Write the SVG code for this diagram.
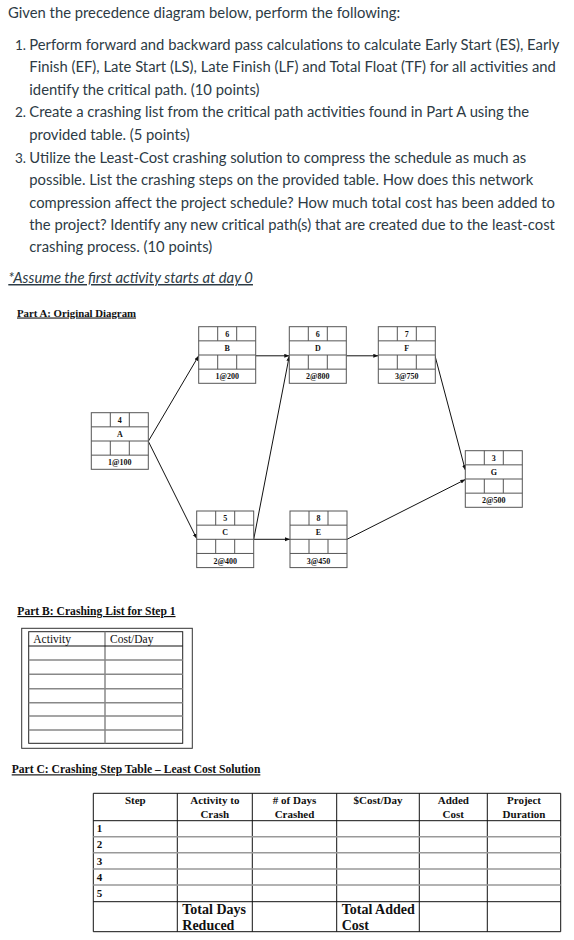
<svg xmlns="http://www.w3.org/2000/svg" width="574" height="940" viewBox="0 0 574 940">
<defs>
<style>
.q{font-family:Lato,"Open Sans","Liberation Sans",sans-serif;font-size:14.8px;fill:#2D3B45}
.qn{font-size:13.5px}
.qi{font-style:italic;text-decoration:underline}
.h{font-family:"Liberation Serif","Times New Roman",serif;font-weight:bold;fill:#111;text-decoration:underline}
.box{fill:#fff;stroke:#555;stroke-width:1}
.grid{fill:none;stroke:#555;stroke-width:1}
.nt{font-family:"Liberation Serif","Times New Roman",serif;font-weight:bold;font-size:8px;fill:#111;text-anchor:middle}
.edge{fill:none;stroke:#111;stroke-width:1}
.tb{font-family:"Liberation Serif","Times New Roman",serif;font-size:11.5px;fill:#111}
.tbb{font-family:"Liberation Serif","Times New Roman",serif;font-size:11px;font-weight:bold;fill:#111}
.tbc{text-anchor:middle}
.big{font-family:"Liberation Serif","Times New Roman",serif;font-size:14px;font-weight:bold;fill:#111}
.ln{stroke:#111;stroke-width:1;fill:none}
.lg{stroke:#999;stroke-width:1.5;fill:none}
.lb{stroke:#888;stroke-width:1.5;fill:none}
</style>
<marker id="arr" markerUnits="userSpaceOnUse" markerWidth="6" markerHeight="5" refX="5" refY="2" orient="auto">
<path d="M0,0 L5,2 L0,4 z" fill="#111"/>
</marker>
</defs>
<rect width="574" height="940" fill="#fff"/>

<g id="question">
<text class="q" x="8" y="17.5">Given the precedence diagram below, perform the following:</text>
<text class="q qn" x="15" y="49.5">1.</text>
<text class="q" x="29.3" y="49.5">Perform forward and backward pass calculations to calculate Early Start (ES), Early</text>
<text class="q" x="29.3" y="72">Finish (EF), Late Start (LS), Late Finish (LF) and Total Float (TF) for all activities and</text>
<text class="q" x="29.3" y="94.5">identify the critical path. (10 points)</text>
<text class="q qn" x="15" y="117">2.</text>
<text class="q" x="29.3" y="117">Create a crashing list from the critical path activities found in Part A using the</text>
<text class="q" x="29.3" y="139.5">provided table. (5 points)</text>
<text class="q qn" x="15" y="162.5">3.</text>
<text class="q" x="29.3" y="162.5">Utilize the Least-Cost crashing solution to compress the schedule as much as</text>
<text class="q" x="29.3" y="185">possible. List the crashing steps on the provided table. How does this network</text>
<text class="q" x="29.3" y="207.5">compression affect the project schedule? How much total cost has been added to</text>
<text class="q" x="29.3" y="230">the project? Identify any new critical path(s) that are created due to the least-cost</text>
<text class="q" x="29.3" y="252">crashing process. (10 points)</text>
<text class="q qi" x="8.3" y="283">*Assume the first activity starts at day 0</text>
</g>

<text class="h" x="17" y="316.5" font-size="10.8">Part A: Original Diagram</text>

<g id="connectors">
<line class="edge" x1="148.3" y1="441.3" x2="198.7" y2="355.8" marker-end="url(#arr)"/>
<line class="edge" x1="148.3" y1="441.3" x2="196.7" y2="538.5" marker-end="url(#arr)"/>
<line class="edge" x1="255.7" y1="355.8" x2="289.3" y2="355.8" marker-end="url(#arr)"/>
<line class="edge" x1="253.7" y1="539.3" x2="289.3" y2="356" marker-end="url(#arr)"/>
<line class="edge" x1="253.7" y1="539.3" x2="290" y2="539.3" marker-end="url(#arr)"/>
<line class="edge" x1="346.3" y1="355.8" x2="378.3" y2="355.8" marker-end="url(#arr)"/>
<line class="edge" x1="435" y1="355.8" x2="465.3" y2="470" marker-end="url(#arr)"/>
<line class="edge" x1="347" y1="539.3" x2="465.3" y2="479.5" marker-end="url(#arr)"/>
</g>

<g id="node-A" transform="translate(91.3,412.7)">
<rect class="box" width="57" height="56.6"/>
<path class="grid" d="M0,14.15H57M0,28.3H57M0,42.45H57M19,0V14.15M38,0V14.15M19,28.3V42.45M38,28.3V42.45"/>
<text class="nt" x="28.5" y="10.3">4</text>
<text class="nt" x="28.5" y="24.4">A</text>
<text class="nt" x="28.5" y="52.6">1@100</text>
</g>
<g id="node-B" transform="translate(198.7,326.7)">
<rect class="box" width="57" height="56.6"/>
<path class="grid" d="M0,14.15H57M0,28.3H57M0,42.45H57M19,0V14.15M38,0V14.15M19,28.3V42.45M38,28.3V42.45"/>
<text class="nt" x="28.5" y="10.3">6</text>
<text class="nt" x="28.5" y="24.4">B</text>
<text class="nt" x="28.5" y="52.6">1@200</text>
</g>
<g id="node-D" transform="translate(289.3,326.7)">
<rect class="box" width="57" height="56.6"/>
<path class="grid" d="M0,14.15H57M0,28.3H57M0,42.45H57M19,0V14.15M38,0V14.15M19,28.3V42.45M38,28.3V42.45"/>
<text class="nt" x="28.5" y="10.3">6</text>
<text class="nt" x="28.5" y="24.4">D</text>
<text class="nt" x="28.5" y="52.6">2@800</text>
</g>
<g id="node-F" transform="translate(378.3,326.7)">
<rect class="box" width="57" height="56.6"/>
<path class="grid" d="M0,14.15H57M0,28.3H57M0,42.45H57M19,0V14.15M38,0V14.15M19,28.3V42.45M38,28.3V42.45"/>
<text class="nt" x="28.5" y="10.3">7</text>
<text class="nt" x="28.5" y="24.4">F</text>
<text class="nt" x="28.5" y="52.6">3@750</text>
</g>
<g id="node-G" transform="translate(465.3,450.7)">
<rect class="box" width="57" height="56.6"/>
<path class="grid" d="M0,14.15H57M0,28.3H57M0,42.45H57M19,0V14.15M38,0V14.15M19,28.3V42.45M38,28.3V42.45"/>
<text class="nt" x="28.5" y="10.3">3</text>
<text class="nt" x="28.5" y="24.4">G</text>
<text class="nt" x="28.5" y="52.6">2@500</text>
</g>
<g id="node-C" transform="translate(196.7,511)">
<rect class="box" width="57" height="56.6"/>
<path class="grid" d="M0,14.15H57M0,28.3H57M0,42.45H57M19,0V14.15M38,0V14.15M19,28.3V42.45M38,28.3V42.45"/>
<text class="nt" x="28.5" y="10.3">5</text>
<text class="nt" x="28.5" y="24.4">C</text>
<text class="nt" x="28.5" y="52.6">2@400</text>
</g>
<g id="node-E" transform="translate(290,511)">
<rect class="box" width="57" height="56.6"/>
<path class="grid" d="M0,14.15H57M0,28.3H57M0,42.45H57M19,0V14.15M38,0V14.15M19,28.3V42.45M38,28.3V42.45"/>
<text class="nt" x="28.5" y="10.3">8</text>
<text class="nt" x="28.5" y="24.4">E</text>
<text class="nt" x="28.5" y="52.6">3@450</text>
</g>

<g id="part-b">
<text class="h" x="17.3" y="615" font-size="11.6">Part B: Crashing List for Step 1</text>
<rect x="21.7" y="628.3" width="170.6" height="120" fill="none" stroke="#333" stroke-width="1"/>
<rect x="28.7" y="631.7" width="154" height="111.6" fill="none" stroke="#222" stroke-width="1"/>
<path class="lb" d="M105,631.7V743.3"/>
<path class="ln" d="M28.7,646H182.7"/>
<path class="lb" d="M28.7,660H182.7M28.7,674.3H182.7M28.7,688.7H182.7M28.7,702.7H182.7M28.7,716H182.7M28.7,730H182.7"/>
<text class="tb" x="33.3" y="643">Activity</text>
<text class="tb" x="110" y="643">Cost/Day</text>
</g>

<g id="part-c">
<text class="h" x="11.7" y="773.3" font-size="11.6">Part C: Crashing Step Table – Least Cost Solution</text>
<path class="ln" d="M93.3,793.3H560.7V931.7H93.3Z"/>
<path class="ln" d="M177.3,793.3V931.7M252.3,793.3V931.7M336.7,793.3V931.7M419.3,793.3V931.7M487.3,793.3V931.7"/>
<path class="ln" d="M93.3,820.7H560.7M93.3,901.7H560.7"/>
<path class="lg" d="M93.3,836.7H560.7M93.3,852.7H560.7M93.3,869H560.7M93.3,885H560.7"/>
<text class="tbb tbc" x="135.3" y="804">Step</text>
<text class="tbb tbc" x="214.8" y="804">Activity to</text>
<text class="tbb tbc" x="214.8" y="817.7">Crash</text>
<text class="tbb tbc" x="294.5" y="804">&#35; of Days</text>
<text class="tbb tbc" x="294.5" y="817.7">Crashed</text>
<text class="tbb tbc" x="378" y="804">$Cost/Day</text>
<text class="tbb tbc" x="453.3" y="804">Added</text>
<text class="tbb tbc" x="453.3" y="817.7">Cost</text>
<text class="tbb tbc" x="524" y="804">Project</text>
<text class="tbb tbc" x="524" y="817.7">Duration</text>
<text class="tbb" x="96.7" y="832.3" font-size="12.5">1</text>
<text class="tbb" x="96.7" y="848.3" font-size="12.5">2</text>
<text class="tbb" x="96.7" y="864.5" font-size="12.5">3</text>
<text class="tbb" x="96.7" y="880.7" font-size="12.5">4</text>
<text class="tbb" x="96.7" y="897" font-size="12.5">5</text>
<text class="big" x="182.3" y="914.3">Total Days</text>
<text class="big" x="182.3" y="930">Reduced</text>
<text class="big" x="341.7" y="913.5">Total Added</text>
<text class="big" x="341.7" y="929.5">Cost</text>
</g>
</svg>
